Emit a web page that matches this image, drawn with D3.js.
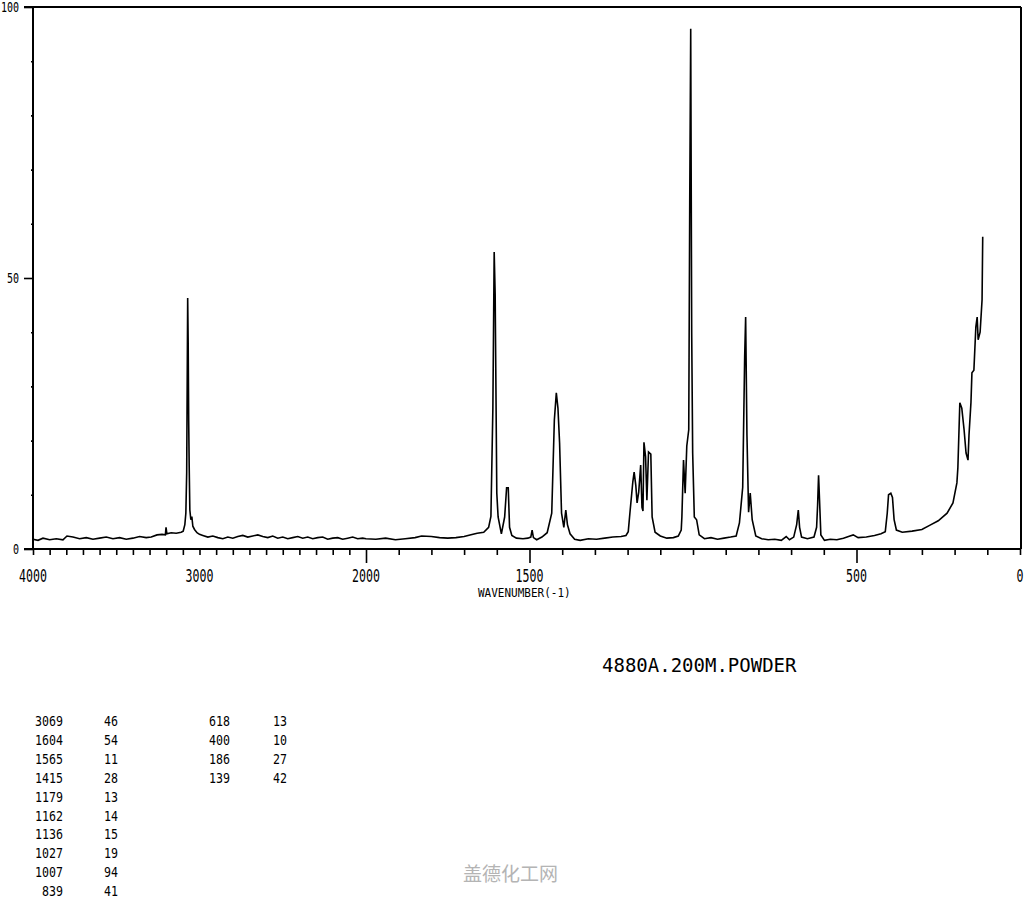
<!DOCTYPE html>
<html>
<head>
<meta charset="utf-8">
<script src="https://cdn.jsdelivr.net/npm/d3@7"></script>
<style>
  body { margin: 0; background: #fff; }
  svg { display: block; }
</style>
</head>
<body>
<svg width="1024" height="900"></svg>
<script>
// data ======================================================
// Raman shift (cm-1), read off the trace from left (4000) to right
let shift = [
  4000, 3970, 3940, 3900, 3860, 3820, 3796, 3760, 3720, 3680, 3640, 3600, 3560, 3520, 3480, 3440,
  3400, 3360, 3320, 3290, 3255, 3225, 3205, 3201, 3196, 3170, 3140, 3110, 3098, 3088, 3082, 3077,
  3074, 3071, 3068, 3065, 3062, 3058, 3052, 3046, 3040, 3030, 3015, 3000, 2980, 2950, 2920, 2890,
  2860, 2830, 2800, 2770, 2740, 2710, 2680, 2650, 2620, 2590, 2560, 2530, 2500, 2470, 2440, 2410,
  2380, 2350, 2320, 2290, 2260, 2230, 2200, 2170, 2140, 2110, 2080, 2050, 2020, 2000,
  1970, 1940, 1910, 1880, 1850, 1830, 1800, 1775, 1750, 1725, 1700, 1682, 1660, 1640, 1625, 1618,
  1612, 1608, 1605, 1600, 1596, 1586, 1576, 1570, 1565, 1561, 1554, 1540, 1520, 1505, 1496, 1492,
  1488, 1478, 1462, 1446, 1432, 1424, 1418, 1413, 1408, 1402, 1395, 1389, 1384, 1376, 1362, 1345,
  1320, 1295, 1270, 1245, 1220, 1205, 1198, 1193, 1184, 1180, 1175, 1171, 1166, 1160, 1156, 1153,
  1150, 1145, 1141, 1136, 1129, 1125, 1116, 1100, 1080, 1060, 1045, 1036, 1034, 1029, 1024, 1019,
  1013, 1010, 1007, 1004, 1001, 996, 989, 981, 965, 945, 925, 905, 885, 868, 858, 848,
  842, 839, 835, 830, 825, 819, 808, 790, 770, 750, 730, 715, 705, 692, 683, 678,
  674, 668, 650, 630, 622, 619, 616, 613, 609, 598, 580, 560, 540, 520, 510, 495,
  470, 445, 425, 412, 406, 402, 395, 390, 385, 378, 360, 330, 300, 275, 250, 223,
  205, 193, 190, 184, 178, 171, 165, 159, 156, 150, 147, 141, 135, 131, 128, 122,
  116, 114
];
// relative intensity for each shift above
let intensity = [
  1.8, 1.6, 2.0, 1.7, 1.9, 1.7, 2.4, 2.2, 1.9, 2.1, 1.8, 2.0, 2.2, 1.9, 2.1, 1.8,
  2.0, 2.3, 2.1, 2.2, 2.6, 2.7, 2.6, 4.0, 2.8, 3.0, 2.9, 3.1, 3.3, 4.5, 6.6, 14,
  30, 46.3, 38, 23.8, 15.5, 7.2, 5.4, 6.0, 4.2, 3.6, 3.0, 2.7, 2.5, 2.2, 2.4, 2.1,
  1.9, 2.2, 2.0, 2.3, 2.5, 2.2, 2.4, 2.6, 2.3, 2.1, 2.4, 2.0, 2.2, 1.9, 2.1, 2.3,
  2.0, 2.2, 1.9, 2.1, 2.2, 1.8, 2.0, 2.1, 1.8, 2.0, 2.2, 1.9, 2.0, 1.9,
  1.8, 2.0, 1.7, 1.9, 2.1, 2.4, 2.3, 2.1, 2.0, 2.1, 2.3, 2.6, 2.9, 3.1, 4.0, 6.0,
  26, 54.8, 47, 10.3, 5.9, 2.8, 5.9, 11.3, 11.3, 4.0, 2.5, 2.0, 1.9, 2.0, 2.2, 3.5,
  2.1, 1.7, 2.2, 3.0, 6.6, 23.8, 28.8, 26, 19.6, 6.6, 4.0, 7.2, 4.5, 2.8, 1.8, 1.6,
  1.9, 1.8, 2.0, 2.2, 2.3, 2.5, 3.2, 6.6, 12.4, 14.2, 11.8, 8.5, 10.5, 15.5, 7.7, 7.0,
  19.7, 17.0, 9.0, 17.9, 17.5, 5.9, 3.1, 2.4, 2.0, 2.1, 2.4, 3.5, 5.9, 16.4, 10.3, 19,
  22, 64, 96, 40, 17.7, 5.9, 5.4, 2.6, 1.9, 2.1, 1.8, 2.0, 2.2, 2.4, 4.8, 11.4,
  35.4, 42.8, 21, 6.8, 10.3, 5.4, 2.4, 1.9, 1.7, 1.8, 1.6, 2.3, 1.7, 2.2, 4.5, 7.2,
  4.0, 2.2, 1.9, 2.2, 4.0, 8.0, 13.6, 9.0, 2.6, 1.6, 1.8, 1.7, 2.0, 2.4, 2.6, 2.1,
  2.2, 2.5, 2.8, 3.2, 6.6, 10, 10.3, 9.5, 5.4, 3.5, 3.1, 3.3, 3.6, 4.4, 5.2, 6.6,
  8.5, 12.2, 15, 27, 26, 22, 17.7, 16.4, 21, 27, 32.5, 33, 41, 42.8, 38.6, 40,
  46, 57.6
];

// peak table printed under the chart
let peakShift1 = ["3069", "1604", "1565", "1415", "1179", "1162", "1136", "1027", "1007", "839"];
let peakInt1   = ["46", "54", "11", "28", "13", "14", "15", "19", "94", "41"];
let peakShift2 = ["618", "400", "186", "139"];
let peakInt2   = ["13", "10", "27", "42"];

let xLabelValues = [4000, 3000, 2000, 1500, 500, 0];
let xMajorTicks = [2000, 1500, 500];
let yLabelValues = [0, 50, 100];

let sampleLabel = "4880A.200M.POWDER";
let xTitle = "WAVENUMBER(-1)";
let watermark = "盖德化工网";

// setup =====================================================
var svg = d3.select("svg");
var mono = "'DejaVu Sans Mono', 'Liberation Mono', monospace";

// the scale changes at 2000 cm-1 (compressed on the left)
var x = d3.scaleLinear().domain([4000, 2000, 0]).range([33, 366, 1020]);
var y = d3.scaleLinear().domain([0, 100]).range([549, 7]);

// draws mono text stretched vertically like the plotter font
function tallText(g, px, base, txt, size, sy, anchor) {
  return g.append("text")
    .attr("transform", "translate(" + px + "," + base + ") scale(1," + sy + ")")
    .attr("text-anchor", anchor)
    .attr("fill", "#000")
    .style("font-family", mono)
    .style("font-size", size + "px")
    .text(txt);
}

// axes ======================================================
var xAxis = svg.append("g")
  .attr("transform", "translate(0," + y(0) + ")")
  .call(d3.axisBottom(x)
    .tickValues(d3.range(0, 4001, 100))
    .tickSize(6)
    .tickFormat(""));
xAxis.select(".domain").remove();
xAxis.selectAll(".tick line")
  .attr("stroke", "#000")
  .attr("stroke-width", 1.6)
  .attr("y2", function(d) { return xMajorTicks.indexOf(d) >= 0 ? 14 : 6; });

var yAxis = svg.append("g")
  .attr("transform", "translate(" + x(4000) + ",0)")
  .call(d3.axisLeft(y)
    .tickValues(d3.range(0, 101, 10))
    .tickSize(2)
    .tickFormat(""));
yAxis.select(".domain").remove();
yAxis.selectAll(".tick line")
  .attr("stroke", "#000")
  .attr("stroke-width", 1.6)
  .attr("x2", function(d) { return yLabelValues.indexOf(d) >= 0 ? -9 : -2; });

// frame lines
var frame = svg.append("g").attr("stroke", "#000").attr("stroke-width", 2).attr("fill", "none");
frame.append("line").attr("x1", 24).attr("x2", 1021).attr("y1", y(0)).attr("y2", y(0));
frame.append("line").attr("x1", 24).attr("x2", 1021).attr("y1", y(100)).attr("y2", y(100));
frame.append("line").attr("x1", x(4000)).attr("x2", x(4000)).attr("y1", y(100)).attr("y2", y(0));
frame.append("line").attr("x1", 1021).attr("x2", 1021).attr("y1", y(100)).attr("y2", y(0));

// tick labels
var labels = svg.append("g");
xLabelValues.forEach(function(v) {
  tallText(labels, x(v), 582, String(v), 11.6, 1.5, "middle");
});
yLabelValues.forEach(function(v) {
  tallText(labels, 19, y(v) + 5, String(v), 10, 1.35, "end");
});
tallText(labels, 478, 597, xTitle, 11, 1.15, "start");

// spectrum ==================================================
var line = d3.line()
  .x(function(d) { return x(d[0]); })
  .y(function(d) { return y(d[1]); });

svg.append("path")
  .datum(d3.zip(shift, intensity))
  .attr("fill", "none")
  .attr("stroke", "#000")
  .attr("stroke-width", 1.6)
  .attr("stroke-linejoin", "miter")
  .attr("d", line);

// sample label and peak table ===============================
svg.append("text")
  .attr("x", 602)
  .attr("y", 672)
  .attr("fill", "#000")
  .style("font-family", mono)
  .style("font-size", "19px")
  .text(sampleLabel);

var table = svg.append("g");
var rowStep = 18.9;
peakShift1.forEach(function(s, i) {
  tallText(table, 63, 726 + i * rowStep, s, 11.6, 1.25, "end");
  tallText(table, 118, 726 + i * rowStep, peakInt1[i], 11.6, 1.25, "end");
});
peakShift2.forEach(function(s, i) {
  tallText(table, 230, 726 + i * rowStep, s, 11.6, 1.25, "end");
  tallText(table, 287, 726 + i * rowStep, peakInt2[i], 11.6, 1.25, "end");
});

svg.append("text")
  .attr("x", 463)
  .attr("y", 881)
  .attr("fill", "#b4b4b4")
  .style("font-family", "'Noto Sans CJK SC', sans-serif")
  .style("font-size", "19px")
  .text(watermark);
</script>
</body>
</html>
